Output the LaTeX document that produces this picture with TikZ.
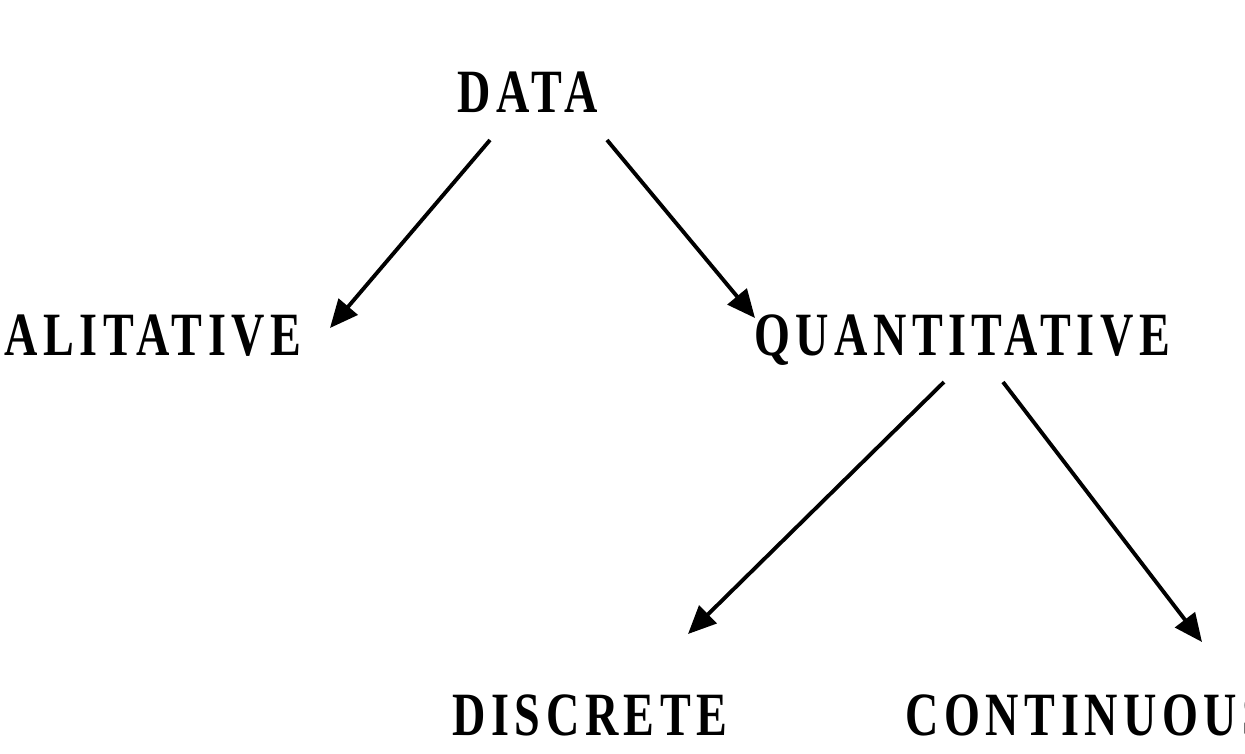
\documentclass[tikz,border=0pt]{standalone}
\usepackage{fontspec}
\setmainfont{Liberation Serif}
\usetikzlibrary{arrows.meta}
\newcommand{\lbltxt}[1]{\scalebox{0.75}[1]{\addfontfeature{LetterSpace=12}\bfseries #1}}
\begin{document}
\begin{tikzpicture}[x=0.01cm,y=-0.01cm,
  lbl/.style={inner sep=0pt,font=\fontsize{17.5}{20}\selectfont},
  arr/.style={line width=1.1pt,-{Triangle[length=8pt,width=7pt]}}]
\useasboundingbox (0,0) rectangle (1245,753);
\clip (0,0) rectangle (1245,753);
\node[lbl] (data) at (528,92) {\lbltxt{DATA}};
\node[lbl,anchor=east] (qual) at (302,340) {\lbltxt{QUALITATIVE}};
\node[lbl] (quant) at (962,340) {\lbltxt{QUANTITATIVE}};
\node[lbl] (disc) at (590,715) {\lbltxt{DISCRETE}};
\node[lbl,anchor=west] (cont) at (905,715) {\lbltxt{CONTINUOUS}};
\coordinate (a1) at (490,140); \coordinate (b1) at (330,328);
\coordinate (a2) at (607,140); \coordinate (b2) at (755,318);
\coordinate (a3) at (944,382); \coordinate (b3) at (688,634);
\coordinate (a4) at (1003,382); \coordinate (b4) at (1202,642);
\draw[arr] (a1) -- (b1);
\draw[arr] (a2) -- (b2);
\draw[arr] (a3) -- (b3);
\draw[arr] (a4) -- (b4);
\end{tikzpicture}
\end{document}
